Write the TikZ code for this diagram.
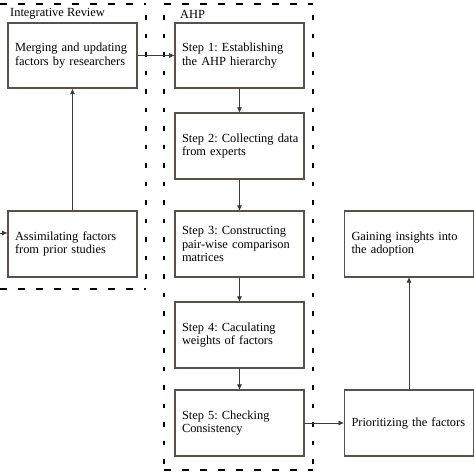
\documentclass[tikz,border=0pt]{standalone}
\usepackage{fontspec}
\setmainfont{Liberation Serif}
\usetikzlibrary{arrows.meta}
\definecolor{boxline}{HTML}{5A514B}
\definecolor{arrowc}{HTML}{3A3A3A}
\frenchspacing
\begin{document}
\begin{tikzpicture}[x=1pt,y=-1pt,
  fbox/.style={draw=boxline,line width=1.8pt,fill=white,minimum width=129pt,minimum height=65.5pt,
    text width=115pt,inner xsep=7pt,align=left,font=\fontsize{12.4}{13.8}\selectfont},
  hgroup/.style={line width=2.4pt,dash pattern=on 7pt off 11pt},
  vgroup/.style={line width=2.4pt,dash pattern=on 4.5pt off 14pt},
  conn/.style={draw=arrowc,line width=0.7pt,-{Triangle[length=5pt,width=4.5pt]}},
  lbl/.style={anchor=west,inner sep=0pt,font=\fontsize{12.4}{13.8}\selectfont}]
\useasboundingbox (0,0) rectangle (474,474);
\fill[white] (0,0) rectangle (474,474);
% group frames
\draw[hgroup] (0,4) -- (146,4);
\draw[vgroup] (146,15) -- (146,289);
\draw[hgroup] (0,289) -- (146,289);
\draw[hgroup] (164,4) -- (313,4);
\draw[hgroup] (164,470) -- (313,470);
\draw[vgroup] (164,15) -- (164,470);
\draw[vgroup] (313,15) -- (313,470);
\node[lbl] (lir) at (10,14) {Integrative Review};
\node[lbl] (lahp) at (180,14) {AHP};
% boxes
\node[fbox] (merge) at (72.5,55.5) {\mbox{Merging and updating}\\\mbox{factors by researchers}};
\node[fbox] (assim) at (72.5,244) {Assimilating factors\\from prior studies};
\node[fbox] (s1) at (239.5,55.5) {Step 1: Establishing\\the AHP hierarchy};
\node[fbox] (s2) at (239.5,146) {\mbox{Step 2: Collecting data}\\from experts};
\node[fbox] (s3) at (239.5,244) {Step 3: Constructing\\\mbox{pair-wise comparison}\\matrices};
\node[fbox] (s4) at (239.5,335) {Step 4: Caculating\\weights of factors};
\node[fbox] (s5) at (239.5,423) {Step 5: Checking\\Consistency};
\node[fbox] (prio) at (409,423) {\mbox{Prioritizing the factors}};
\node[fbox] (gain) at (409,244) {Gaining insights into\\the adoption};
% connectors
\coordinate (lin) at (0,233);
\draw[conn] (lin) -- (lin -| assim.west);
\draw[conn] (assim) -- (merge);
\draw[conn] (merge) -- (s1);
\draw[conn] (s1) -- (s2);
\draw[conn] (s2) -- (s3);
\draw[conn] (s3) -- (s4);
\draw[conn] (s4) -- (s5);
\draw[conn] (s5) -- (prio);
\draw[conn] (prio) -- (gain);
\end{tikzpicture}
\end{document}
